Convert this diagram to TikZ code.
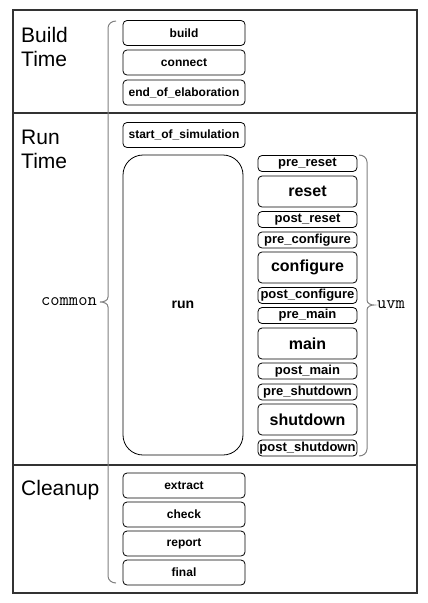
\documentclass[tikz,border=0pt]{standalone}
\usepackage{fontspec}
\setmainfont{Liberation Sans}

\begin{document}
\begin{tikzpicture}[
    x=1pt, y=-1pt,
    frame/.style={draw=black!80, line width=1.2pt},
    phase/.style={rectangle, rounded corners=4pt, draw, line width=0.8pt, inner sep=0pt, font=\fontsize{12}{14}\selectfont\bfseries},
    commonbox/.style={phase, minimum width=122pt, minimum height=25pt},
    uvmsmall/.style={phase, minimum width=99pt, minimum height=16pt, font=\fontsize{13}{15}\selectfont\bfseries},
    uvmbig/.style={phase, minimum width=99pt, minimum height=31pt, font=\fontsize{16}{18}\selectfont\bfseries},
    stage/.style={anchor=north west, inner sep=0pt, align=left, font=\fontsize{21}{24}\selectfont},
    grp/.style={draw=black!50, line width=1pt},
    grplabel/.style={inner sep=0pt, font=\fontsize{18}{20}\selectfont\ttfamily}
]
    \useasboundingbox (0,0) rectangle (428,603);

    % frame and the three stages
    \draw[frame] (13,10) rectangle (417,593);
    \draw[frame] (13,113) -- (417,113);
    \draw[frame] (13,465) -- (417,465);
    \node[stage] (buildtime) at (21,27) {Build\\Time};
    \node[stage] (runtime) at (21,130) {Run\\Time};
    \node[stage] (cleanup) at (21,480) {Cleanup};

    % common phases
    \node[commonbox] (build) at (184,33) {build};
    \node[commonbox] (connect) at (184,62.5) {connect};
    \node[commonbox] (eoe) at (184,92.5) {end\_of\_elaboration};
    \node[commonbox] (sos) at (184,135) {start\_of\_simulation};
    \node[phase, rounded corners=20pt, minimum width=120pt, minimum height=300pt,
          font=\fontsize{14}{16}\selectfont\bfseries] (run) at (183,305) {run};
    \node[commonbox] (extract) at (184,485.5) {extract};
    \node[commonbox] (check) at (184,514.5) {check};
    \node[commonbox] (report) at (184,543.5) {report};
    \node[commonbox] (final) at (184,572.5) {final};

    % uvm run-time phases
    \node[uvmsmall] (prereset) at (307.5,163.5) {pre\_reset};
    \node[uvmbig] (reset) at (307.5,191.5) {reset};
    \node[uvmsmall] (postreset) at (307.5,219.5) {post\_reset};
    \node[uvmsmall] (preconfigure) at (307.5,240) {pre\_configure};
    \node[uvmbig] (configure) at (307.5,267.5) {configure};
    \node[uvmsmall] (postconfigure) at (307.5,295.5) {post\_configure};
    \node[uvmsmall] (premain) at (307.5,315.5) {pre\_main};
    \node[uvmbig] (main) at (307.5,343.5) {main};
    \node[uvmsmall] (postmain) at (307.5,371) {post\_main};
    \node[uvmsmall] (preshutdown) at (307.5,392) {pre\_shutdown};
    \node[uvmbig] (shutdown) at (307.5,419.5) {shutdown};
    \node[uvmsmall] (postshutdown) at (307.5,448) {post\_shutdown};

    % braces
    \coordinate (ctop) at (116,21);
    \coordinate (cbot) at (116,583);
    \coordinate (ctip) at (100,302);
    \draw[grp] (ctop) to[out=180,in=90] (108,28) -- (108,297)
        to[out=270,in=0] (ctip) to[out=0,in=90] (108,307) -- (108,576)
        to[out=270,in=180] (cbot);
    \node[grplabel, anchor=east] (common) at (97,302) {common};

    \coordinate (utop) at (359,155);
    \coordinate (ubot) at (359,456);
    \coordinate (utip) at (374,305);
    \draw[grp] (utop) to[out=0,in=90] (367,162) -- (367,300)
        to[out=270,in=180] (utip) to[out=180,in=90] (367,310) -- (367,449)
        to[out=270,in=0] (ubot);
    \node[grplabel, anchor=west] (uvm) at (377,305) {uvm};
\end{tikzpicture}
\end{document}
